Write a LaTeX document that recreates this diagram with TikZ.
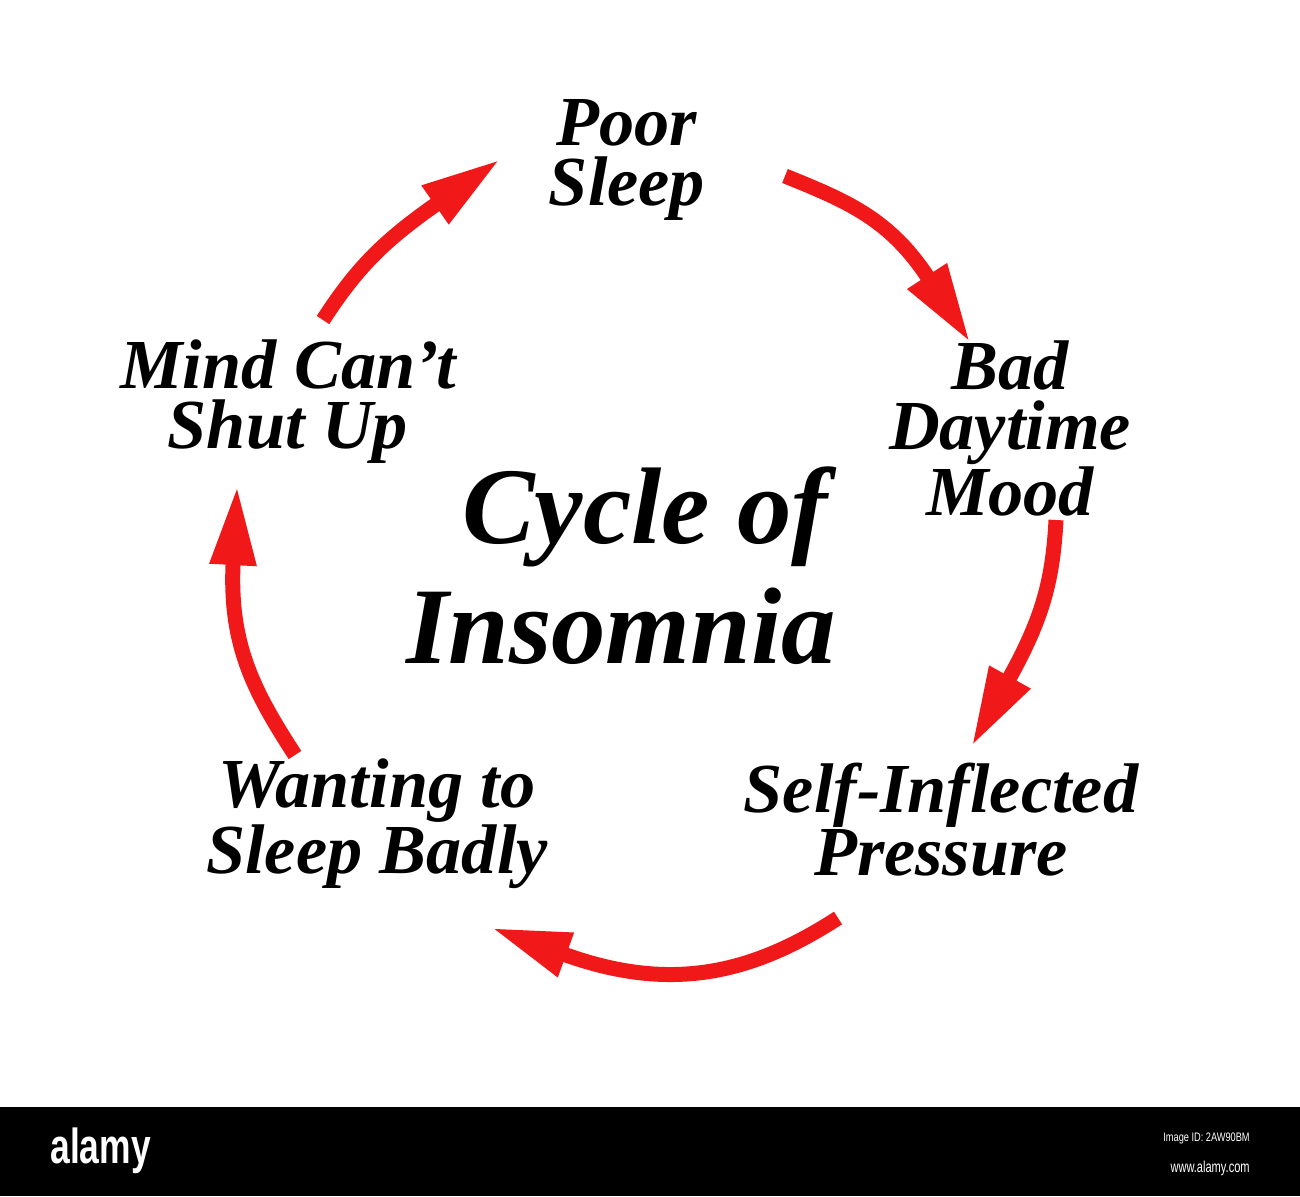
\documentclass[tikz,border=0pt]{standalone}
\usepackage{fontspec}
\setmainfont{Liberation Serif}
\newfontfamily\barfont{Liberation Sans}
\usetikzlibrary{arrows.meta}
\definecolor{arrred}{RGB}{240,24,24}
\begin{document}
\begin{tikzpicture}[x=0.02cm,y=-0.02cm,
  lbl/.style={font=\fontsize{40}{34}\selectfont\bfseries\itshape, align=center, anchor=base, inner sep=0pt},
  ttl/.style={font=\fontsize{62}{68}\selectfont\bfseries\itshape, align=center, anchor=base, inner sep=0pt},
  cyc/.style={draw=arrred, line width=0.3cm, shorten >=-1.6cm, -{Triangle[length=1.6cm,width=0.86cm]}},
  bartext/.style={text=white, inner sep=0pt}]
\useasboundingbox (0,0) rectangle (1300,1196);
\fill[white] (0,0) rectangle (1300,1196);

% labels (anchor = baseline of the last line)
\node[lbl] (poor) at (627,205) {Poor\\Sleep};
\node[lbl] (bad) at (1010,515) {Bad\\Daytime\\Mood};
\node[lbl] (self) at (941,875) {Self-Inflected\\Pressure};
\node[lbl] (want) at (377,873) {Wanting to\\Sleep Badly};
\node[lbl] (mind) at (288,448) {Mind Can{\char"0027}t\\Shut Up};
\node[ttl] (title) at (633,663) {\hspace*{0.48cm}Cycle of\\Insomnia\hspace*{0.48cm}};

% arrow tails and arrow-head bases
\coordinate (a1s) at (323,320);  \coordinate (a1e) at (435,205);
\coordinate (a2s) at (785,176);  \coordinate (a2e) at (927,276);
\coordinate (a3s) at (1056,520); \coordinate (a3e) at (1010,677);
\coordinate (a4s) at (838,918);  \coordinate (a4e) at (566,955);
\coordinate (a5s) at (295,755);  \coordinate (a5e) at (233,565);

\draw[cyc] (a1s) to[out=57,in=215] (a1e);
\draw[cyc] (a2s) to[out=-22,in=123] (a2e);
\draw[cyc] (a3s) to[out=-93,in=61] (a3e);
\draw[cyc] (a4s) to[out=213,in=-20] (a4e);
\draw[cyc] (a5s) to[out=123,in=-93] (a5e);

% bottom bar
\fill[black] (0,1107) rectangle (1300,1196);
\node[bartext, anchor=base west] (logo) at (50,1163) {\barfont\bfseries\fontsize{28}{28}\selectfont\scalebox{0.72}[1]{alamy}};
\node[bartext, anchor=base east] (imgid) at (1250,1141) {\barfont\fontsize{7}{7}\selectfont\scalebox{0.75}[1]{Image ID: 2AW90BM}};
\node[bartext, anchor=base east] (web) at (1250,1172) {\barfont\fontsize{9}{9}\selectfont\scalebox{0.7}[1]{www.alamy.com}};
\end{tikzpicture}
\end{document}
